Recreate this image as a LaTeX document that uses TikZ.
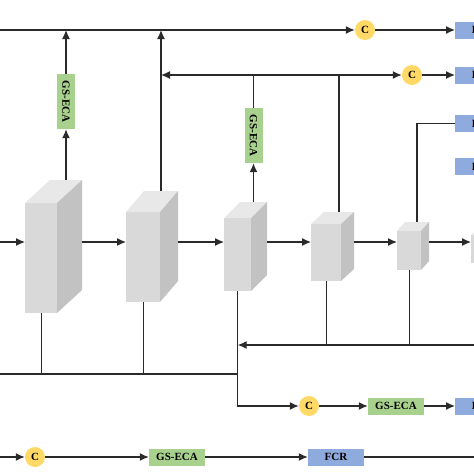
\documentclass[tikz,border=0pt]{standalone}
\usepackage{fontspec}
\setmainfont{Liberation Serif}
\usetikzlibrary{arrows.meta}
\definecolor{gsgreen}{HTML}{A9D18E}
\definecolor{fcrblue}{HTML}{8FAADC}
\definecolor{catyellow}{HTML}{FFD966}
\definecolor{frontc}{HTML}{D9D9D9}
\definecolor{topc}{HTML}{E8E8E8}
\definecolor{sidec}{HTML}{C2C2C2}
\definecolor{linec}{HTML}{2A2A2A}
\tikzset{
  ln/.style={draw=linec, line width=1.25pt},
  arr/.style={ln, -{Latex[length=9pt,width=8pt]}},
  lbl/.style={font=\fontsize{11}{13}\selectfont\bfseries, text=black},
  gsh/.style={lbl, fill=gsgreen, minimum width=56pt, minimum height=17pt, inner sep=0pt},
  gsv/.style={lbl, fill=gsgreen, minimum width=18pt, minimum height=55pt, inner sep=0pt},
  fcr/.style={lbl, fill=fcrblue, minimum width=56pt, minimum height=17pt, inner sep=0pt},
  cat/.style={lbl, circle, fill=catyellow, minimum size=20pt, inner sep=0pt},
}
% #1 name, #2 x0, #3 y0 (top of front face), #4 width, #5 height, #6 dx, #7 dy
\newcommand\cubeblk[7]{%
  \fill[frontc] (#2,#3) rectangle (#2+#4,#3+#5);
  \fill[topc] (#2,#3) -- (#2+#6,#3-#7) -- (#2+#4+#6,#3-#7) -- (#2+#4,#3) -- cycle;
  \fill[sidec] (#2+#4,#3) -- (#2+#4+#6,#3-#7) -- (#2+#4+#6,#3+#5-#7) -- (#2+#4,#3+#5) -- cycle;
  \node[inner sep=0pt, minimum width=#4pt, minimum height=#5pt, anchor=north west] (#1) at (#2,#3) {};
  \coordinate (#1-top) at (#2+#4/2+#6,#3-#7);
  \coordinate (#1-br) at (#2+#4+#6,#3-#7);
}
\begin{document}
\begin{tikzpicture}[x=1pt,y=-1pt]
\useasboundingbox (0,0) rectangle (474,474);
\clip (0,0) rectangle (474,474);
\fill[white] (0,0) rectangle (474,474);

% blocks
\cubeblk{B1}{25}{203}{32}{110}{25}{23}
\cubeblk{B2}{126}{212}{34}{90}{18}{21}
\cubeblk{B3}{224}{218}{27}{73}{16}{16}
\cubeblk{B4}{311}{224}{30}{57}{13}{12}
\cubeblk{B5}{397}{231}{24}{39}{8}{9}
\cubeblk{B6}{471}{235}{22}{28}{6}{6}

% main chain
\coordinate (mid) at (0,242);
\draw[arr] (mid) -- (B1.west |- mid);
\draw[arr] (B1-br |- mid) -- (B2.west |- mid);
\draw[arr] (B2-br |- mid) -- (B3.west |- mid);
\draw[arr] (B3-br |- mid) -- (B4.west |- mid);
\draw[arr] (B4-br |- mid) -- (B5.west |- mid);
\draw[arr] (B5-br |- mid) -- (B6.west |- mid);

% top row (y=30)
\coordinate (t0) at (0,30);
\node[cat] (C1) at (365,30) {C};
\node[fcr, anchor=west] (P1) at (455,30) {FCR};
\draw[arr] (t0) -- (C1);
\draw[arr] (C1) -- (P1);
\node[gsv] (G1) at (66,101.5) {\rotatebox{-90}{GS-ECA}};
\draw[arr] (B1-top) -- (G1);
\draw[arr] (G1) -- (G1 |- t0);
\draw[arr] (B2-top) -- (B2-top |- t0);

% second row (y=75)
\node[cat] (C2) at (412,75) {C};
\node[fcr, anchor=west] (P2) at (455,75) {FCR};
\node[gsv] (G2) at (253.5,135.5) {\rotatebox{-90}{GS-ECA}};
\draw[arr] (B3-top) -- (G2);
\draw[ln] (G2) -- (G2 |- C2);
\draw[ln] (B4-top) -- (B4-top |- C2);
\draw[arr] (G2 |- C2) -- (B2-top |- C2);
\draw[arr] (G2 |- C2) -- (C2);
\draw[arr] (C2) -- (P2);

% right boxes
\node[fcr, anchor=west] (P3) at (455,123.5) {FCR};
\node[fcr, anchor=west] (P4) at (455,166.5) {FCR};
\draw[ln] (B5-top) |- (P3);

% lower lines
\coordinate (b374) at (0,374);
\draw[ln] (b374) -- (B3.south |- b374);
\draw[ln] (B1.south) -- (B1.south |- b374);
\draw[ln] (B2.south) -- (B2.south |- b374);
\coordinate (r345) at (474,345);
\draw[arr] (r345) -- (B3.south |- r345);
\draw[ln] (B4.south) -- (B4.south |- r345);
\draw[ln] (B5.south) -- (B5.south |- r345);

% row y=406
\node[cat] (C3) at (309,406) {C};
\node[gsh] (G3) at (396,406) {GS-ECA};
\node[fcr, anchor=west] (P5) at (455,406) {FCR};
\draw[arr] (B3.south) |- (C3);
\draw[arr] (C3) -- (G3);
\draw[arr] (G3) -- (P5);

% bottom row y=457
\coordinate (b0) at (0,457);
\coordinate (bend) at (474,457);
\node[cat] (C4) at (35,457) {C};
\node[gsh] (G4) at (177,457) {GS-ECA};
\node[fcr] (F1) at (336,457) {FCR};
\draw[arr] (b0) -- (C4);
\draw[arr] (C4) -- (G4);
\draw[arr] (G4) -- (F1);
\draw[ln] (F1) -- (bend);
\end{tikzpicture}
\end{document}
